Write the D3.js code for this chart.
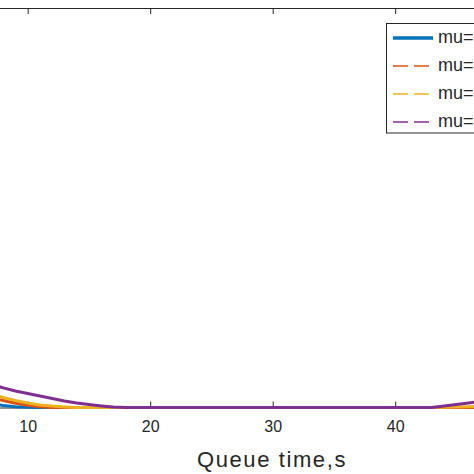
<!DOCTYPE html>
<html>
<head>
<meta charset="utf-8">
<script src="https://cdn.jsdelivr.net/npm/d3@7"></script>
<style>
  html, body { margin: 0; padding: 0; background: #fff; overflow: hidden; }
  svg { display: block; }
</style>
</head>
<body>
<div id="chart"></div>
<script>
// data (queue time in s, probability)
const times = [4, 5, 6, 7, 8, 9, 10, 11, 12, 13, 14, 15, 16, 17, 18, 19, 20, 21, 22, 23,
               24, 25, 26, 27, 28, 29, 30, 31, 32, 33, 34, 35, 36, 37, 38, 39, 40, 41, 42, 43,
               44, 45, 46, 47, 48];

const mu1 = [0.0065, 0.0048, 0.0030, 0.0019, 0.0010, 0.0004, 0.0001, 0, 0, 0, 0, 0, 0, 0, 0, 0, 0, 0, 0, 0,
             0, 0, 0, 0, 0, 0, 0, 0, 0, 0, 0, 0, 0, 0, 0, 0, 0, 0, 0, 0,
             0, 0, 0, 0, 0];
const mu2 = [0.0110, 0.0090, 0.0068, 0.0050, 0.0035, 0.0021, 0.0011, 0.0004, 0, 0, 0, 0, 0, 0, 0, 0, 0, 0, 0, 0,
             0, 0, 0, 0, 0, 0, 0, 0, 0, 0, 0, 0, 0, 0, 0, 0, 0, 0, 0, 0,
             0, 0, 0, 0, 0];
const mu3 = [0.0140, 0.0115, 0.0090, 0.0068, 0.0050, 0.0035, 0.0023, 0.0013, 0.0007, 0.0003, 0, 0, 0, 0, 0, 0, 0, 0, 0, 0,
             0, 0, 0, 0, 0, 0, 0, 0, 0, 0, 0, 0, 0, 0, 0, 0, 0, 0, 0, 0,
             0.0001, 0.0003, 0.0004, 0.0006, 0.0008];
const mu4 = [0.0200, 0.0175, 0.0145, 0.0118, 0.0098, 0.0083, 0.0070, 0.0058, 0.0045, 0.0033, 0.0023, 0.0015, 0.0008, 0.0002, 0, 0, 0, 0, 0, 0,
             0, 0, 0, 0, 0, 0, 0, 0, 0, 0, 0, 0, 0, 0, 0, 0, 0, 0, 0, 0,
             0.0008, 0.0015, 0.0023, 0.0030, 0.0040];

const seriesNames = ["mu=0.1", "mu=0.2", "mu=0.3", "mu=0.4"];
const seriesValues = [mu1, mu2, mu3, mu4];
const xTicks = [10, 20, 30, 40];
const xLabel = "Queue time,s";

// matlab default colours
const colors = ["#0072BD", "#D95319", "#EDB120", "#7E2F8E"];
const axisColor = "#262626";
const font = "'Liberation Sans', Arial, Helvetica, sans-serif";

const width = 474, height = 474;

// the plot box is cropped: left part lies outside the picture
const x = d3.scaleLinear().domain([0, 50]).range([-94.8, 517.7]);
const y = d3.scaleLinear().domain([0, 0.2]).range([407.5, 8]);

const svg = d3.select("#chart").append("svg")
  .attr("width", width)
  .attr("height", height);

// bottom axis (ticks inward)
const bottomAxis = svg.append("g")
  .attr("transform", `translate(0,${y(0)})`)
  .call(d3.axisBottom(x).tickValues(xTicks).tickSizeInner(-6).tickSizeOuter(0).tickPadding(13.5));

// top axis, no labels
const topAxis = svg.append("g")
  .attr("transform", `translate(0,${y(0.2)})`)
  .call(d3.axisTop(x).tickValues(xTicks).tickSizeInner(-6).tickSizeOuter(0).tickFormat(""));

[bottomAxis, topAxis].forEach(g => {
  g.select(".domain").attr("stroke", axisColor).attr("stroke-width", 1);
  g.selectAll(".tick line").attr("stroke", axisColor).attr("stroke-width", 1);
  g.selectAll(".tick text")
    .attr("fill", axisColor)
    .style("font-family", font)
    .style("font-size", "16px");
});

// lines drawn over the axis like matlab does
const line = d3.line()
  .x((d, i) => x(times[i]))
  .y(d => y(d));

seriesValues.forEach((vals, k) => {
  svg.append("path")
    .datum(vals)
    .attr("fill", "none")
    .attr("stroke", colors[k])
    .attr("stroke-width", 3)
    .attr("d", line);
});

// x label
svg.append("text")
  .attr("x", 272)
  .attr("y", 467)
  .attr("text-anchor", "middle")
  .attr("fill", axisColor)
  .style("font-family", font)
  .style("font-size", "22px")
  .style("letter-spacing", "1.6px")
  .text(xLabel);

// legend (runs past the right edge, like the crop)
const lg = svg.append("g");
lg.append("rect")
  .attr("x", 386.5).attr("y", 23.5)
  .attr("width", 140).attr("height", 109.5)
  .attr("fill", "#fff")
  .attr("stroke", axisColor)
  .attr("stroke-width", 1);

seriesNames.forEach((name, k) => {
  const ly = 38 + k * 28;
  lg.append("line")
    .attr("x1", 393).attr("x2", k === 0 ? 433 : 430)
    .attr("y1", ly).attr("y2", ly)
    .attr("stroke", colors[k])
    .attr("stroke-width", k === 0 ? 3.5 : 1.5)
    .attr("stroke-dasharray", k === 0 ? null : "15,6");
  lg.append("text")
    .attr("x", 438)
    .attr("y", ly + 5)
    .attr("fill", axisColor)
    .style("font-family", font)
    .style("font-size", "18px")
    .text(name);
});
</script>
</body>
</html>
